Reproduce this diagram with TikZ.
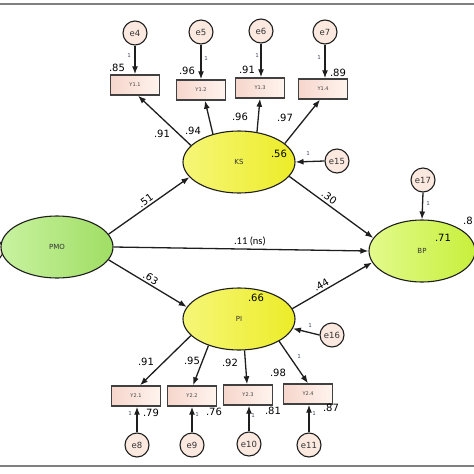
\documentclass[tikz,border=0pt]{standalone}
\usepackage{fontspec}
\setmainfont{DejaVu Sans}
\newfontfamily\carl{Carlito}
\usetikzlibrary{shapes.geometric,arrows.meta}
\definecolor{ylo}{RGB}{236,236,40}
\definecolor{ylolt}{RGB}{246,246,120}
\definecolor{grn}{RGB}{160,222,100}
\definecolor{grnlt}{RGB}{200,242,160}
\definecolor{lim}{RGB}{200,240,60}
\definecolor{limlt}{RGB}{226,250,140}
\definecolor{errfill}{RGB}{251,233,224}
\definecolor{boxl}{RGB}{246,214,204}
\definecolor{boxr}{RGB}{255,244,238}
\definecolor{edge}{RGB}{30,30,30}
\definecolor{onec}{RGB}{60,70,90}
\begin{document}
\begin{tikzpicture}[x=1pt,y=-1pt,
  lat/.style={ellipse, draw=edge, line width=1.1pt, minimum width=112pt, minimum height=62pt, inner sep=0pt, text=black!80, font=\fontsize{7}{8}\selectfont},
  latY/.style={lat, left color=ylolt, right color=ylo},
  latG/.style={lat, left color=grnlt, right color=grn},
  latB/.style={lat, left color=limlt, right color=lim},
  errc/.style={circle, draw=edge, line width=1.1pt, fill=errfill, minimum size=24pt, inner sep=0pt, text=black!80, font=\fontsize{8.5}{9}\selectfont},
  obs/.style={rectangle, draw=black!75, line width=1.4pt, left color=boxl, right color=boxr, minimum width=49pt, minimum height=20pt, inner sep=0pt, text=black!75, font=\fontsize{5}{6}\selectfont},
  arr/.style={-{Latex[length=8pt,width=6pt]}, line width=1.3pt, draw=edge},
  lbl/.style={font=\fontsize{10}{11}\selectfont, inner sep=0pt, text=black},
  elbl/.style={lbl, sloped, above=1.5pt},
  one/.style={font=\fontsize{5.5}{6}\selectfont, text=onec, inner sep=0pt},
  frame/.style={draw=black!50, line width=1.4pt}
]
\useasboundingbox (0,0) rectangle (474,474);
\coordinate (tl) at (0,4);
\coordinate (tr) at (474,4);
\coordinate (bl) at (0,466);
\coordinate (br) at (474,466);
\draw[frame] (tl) -- (tr);
\draw[frame] (bl) -- (br);

% partly visible error term at the left edge
\node[errc] (e0) at (-9,250) {};

% latent variables
\node[latG] (PMO) at (57,247) {PMO};
\node[latY] (KS) at (239,162) {KS};
\node[latY] (PI) at (239,319) {PI};
\node[latB, minimum width=106pt] (BP) at (422,251) {BP};

% error terms
\node[errc] (e4) at (135,33) {e4};
\node[errc] (e5) at (201,32) {e5};
\node[errc] (e6) at (261,31) {e6};
\node[errc] (e7) at (325,32) {e7};
\node[errc] (e15) at (337,161) {e15};
\node[errc] (e17) at (423,180) {e17};
\node[errc] (e16) at (332,335) {e16};
\node[errc] (e8) at (137,445) {e8};
\node[errc] (e9) at (192,445) {e9};
\node[errc] (e10) at (249,444) {e10};
\node[errc] (e11) at (309,445) {e11};

% observed
\node[obs] (Y11) at (135,85) {Y1.1};
\node[obs] (Y12) at (201,90) {Y1.2};
\node[obs] (Y13) at (260,88) {Y1.3};
\node[obs] (Y14) at (323,89) {Y1.4};
\node[obs] (Y21) at (136,396) {Y2.1};
\node[obs] (Y22) at (192,396) {Y2.2};
\node[obs] (Y23) at (248,395) {Y2.3};
\node[obs] (Y24) at (308,394) {Y2.4};

% error -> indicator arrows
\draw[arr] (e4.south) -- (e4.south |- Y11.north);
\draw[arr] (e5.south) -- (e5.south |- Y12.north);
\draw[arr] (e6.south) -- (e6.south |- Y13.north);
\draw[arr] (e7.south) -- (e7.south |- Y14.north);
\draw[arr] (e8.north) -- (e8.north |- Y21.south);
\draw[arr] (e9.north) -- (e9.north |- Y22.south);
\draw[arr] (e10.north) -- (e10.north |- Y23.south);
\draw[arr] (e11.north) -- (e11.north |- Y24.south);
\draw[arr] (e15.west) -- (KS.east);
\draw[arr] (e17.south) -- (BP.north);
\draw[arr] (e16.west) -- (PI.-10);

% loadings
\draw[arr] (KS.161) -- ([xshift=3pt]Y11.south);
\draw[arr] (KS.133) -- ([xshift=4pt]Y12.south);
\draw[arr] (KS.59) -- (Y13.south);
\draw[arr] (KS.22) -- ([xshift=-3pt]Y14.south);
\draw[arr] (PI.199) -- ([xshift=4pt]Y21.north);
\draw[arr] (PI.221) -- ([xshift=1pt]Y22.north);
\draw[arr] (PI.280) -- ([xshift=-1pt]Y23.north);
\draw[arr] (PI.331) -- (Y24.north);

% structural paths with their estimates
\draw[arr] (PMO.14) -- node[elbl, pos=0.5] (l51) {.51} (KS.197);
\draw[arr] (PMO.east) -- node[lbl, pos=0.535, above=3pt, font=\carl\fontsize{10.5}{11}\selectfont] (l11) {.11 (ns)} (BP.west);
\draw[arr] (PMO.346) -- node[elbl, pos=0.5] (l63) {.63} (PI.167);
\draw[arr] (KS.344) -- node[elbl, pos=0.43, above=0.5pt] (l30) {.30} (BP.165);
\draw[arr] (PI.11) -- node[elbl, pos=0.4, above=0.5pt] (l44) {.44} (BP.193);

% R squared
\node[lbl] (r56) at (279,154) {.56};
\node[lbl] (r66) at (256,298) {.66};
\node[lbl] (r71) at (443,238) {.71};
\node[lbl, anchor=west] (r8x) at (463,221) {.8};

% top loadings
\node[lbl] (t91) at (162,134) {.91};
\node[lbl] (t94) at (193,131) {.94};
\node[lbl] (t96) at (240,117) {.96};
\node[lbl] (t97) at (285,118) {.97};
\node[lbl] (s85) at (117,68) {.85};
\node[lbl] (s96) at (187,71) {.96};
\node[lbl] (s91) at (247,70) {.91};
\node[lbl] (s89) at (338,73) {.89};

% bottom loadings
\node[lbl] (b91) at (146,362) {.91};
\node[lbl] (b95) at (192,361) {.95};
\node[lbl] (b92) at (230,363) {.92};
\node[lbl] (b98) at (278,373) {.98};
\node[lbl] (q79) at (151,413) {.79};
\node[lbl] (q76) at (214,412) {.76};
\node[lbl] (q81) at (273,411) {.81};
\node[lbl] (q87) at (331,408) {.87};

% fixed ones
\node[one] (o4) at (129,55) {1};
\node[one] (o5) at (206,58) {1};
\node[one] (o6) at (257,55) {1};
\node[one] (o7) at (319,57) {1};
\node[one] (o15) at (308,153) {1};
\node[one] (o17) at (428,203) {1};
\node[one] (o16) at (310,325) {1};
\node[one] (o24) at (299,356) {1};
\node[one] (o8) at (130,413) {1};
\node[one] (o9) at (197,414) {1};
\node[one] (o10) at (253,415) {1};
\node[one] (o11) at (314,413) {1};
\end{tikzpicture}
\end{document}
